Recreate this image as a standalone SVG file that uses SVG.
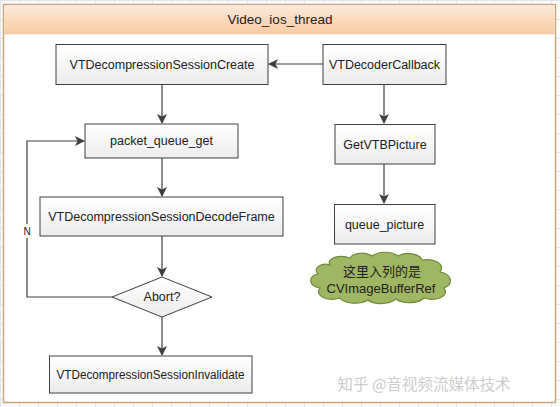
<svg xmlns="http://www.w3.org/2000/svg" width="560" height="407" viewBox="0 0 560 407">
<defs>
<pattern id="grid" width="19" height="19" patternUnits="userSpaceOnUse">
<path d="M0 0.5H19M0.5 0V19" fill="none" stroke="#e4e4e4" stroke-width="1"/>
</pattern>
<linearGradient id="hdr" x1="0" y1="0" x2="0" y2="1">
<stop offset="0" stop-color="#fce9d8"/>
<stop offset="1" stop-color="#f6cba5"/>
</linearGradient>
<linearGradient id="box" x1="0" y1="0" x2="0" y2="1">
<stop offset="0" stop-color="#ffffff"/>
<stop offset="1" stop-color="#ececec"/>
</linearGradient>
<marker id="arr" markerWidth="10" markerHeight="10" refX="9" refY="5" orient="auto" markerUnits="userSpaceOnUse">
<path d="M0 0L10 5L0 10L2.5 5Z" fill="#404040"/>
</marker>
</defs>
<style>
.n{fill:url(#box);stroke:#404040;stroke-width:1}
.t{font-family:"Liberation Sans",Arial,sans-serif;font-size:12.5px;fill:#222;text-anchor:middle;dominant-baseline:central}
.c{fill:none;stroke:#404040;stroke-width:1.2}
</style>
<rect width="560" height="407" fill="#fbfbfb"/>
<rect width="560" height="407" fill="url(#grid)"/>
<g id="container">
<rect x="3.5" y="4.5" width="552" height="398" fill="#ffffff" stroke="#c9a77c" stroke-width="1.5"/>
<rect x="4.3" y="5.3" width="550.4" height="29" fill="url(#hdr)"/>
<text class="t" x="280" y="19.5" style="font-size:13.5px">Video_ios_thread</text>
</g>
<g id="connectors">
<path class="c" d="M162 84V123" marker-end="url(#arr)"/>
<path class="c" d="M323 64H269" marker-end="url(#arr)"/>
<path class="c" d="M384 84V123" marker-end="url(#arr)"/>
<path class="c" d="M384 164V203" marker-end="url(#arr)"/>
<path class="c" d="M162 158V196" marker-end="url(#arr)"/>
<path class="c" d="M162 236V276" marker-end="url(#arr)"/>
<path class="c" d="M162 317V355" marker-end="url(#arr)"/>
<path class="c" d="M112 297H27V141H84" marker-end="url(#arr)"/>
<rect x="21" y="224" width="12" height="14" fill="#ffffff"/>
<text class="t" x="27" y="231" style="font-size:10px">N</text>
</g>
<g id="create"><rect class="n" x="56" y="44.5" width="212" height="40"/><text class="t" x="162" y="64.5">VTDecompressionSessionCreate</text></g>
<g id="callback"><rect class="n" x="323" y="44.5" width="123" height="40"/><text class="t" x="384.5" y="64.5">VTDecoderCallback</text></g>
<g id="packet_queue_get"><rect class="n" x="85" y="124" width="153" height="34"/><text class="t" x="161.5" y="141">packet_queue_get</text></g>
<g id="getvtb"><rect class="n" x="335" y="124.5" width="100" height="39.5"/><text class="t" x="385" y="144.5">GetVTBPicture</text></g>
<g id="decode"><rect class="n" x="40" y="197" width="243" height="39"/><text class="t" x="161.5" y="216.5">VTDecompressionSessionDecodeFrame</text></g>
<g id="queue_picture"><rect class="n" x="334.5" y="204.5" width="100.5" height="39.5"/><text class="t" x="384.5" y="224.5">queue_picture</text></g>
<g id="abort"><path class="n" d="M162 277L212 297L162 317L112 297Z"/><text class="t" x="162" y="297">Abort?</text></g>
<g id="cloud">
<path d="M330 265C326 258 340 254 350 258C354 252 366 252 372 256C378 251 392 251 398 256C406 251 420 254 422 260C434 258 446 264 440 272C452 274 454 284 444 288C450 296 436 302 424 298C418 304 402 304 396 299C388 305 374 305 368 300C360 305 344 304 340 298C328 302 314 296 320 288C308 286 308 276 318 274C312 268 322 262 330 265Z" fill="#9fb662" stroke="#6e8a3c" stroke-width="1.2"/>
<text class="t" x="382" y="270" style="font-family:'Noto Sans CJK SC','Liberation Sans',sans-serif;font-size:13px">这里入列的是</text>
<text class="t" x="381" y="288" style="font-size:13px">CVImageBufferRef</text>
</g>
<g id="invalidate"><rect class="n" x="49.5" y="356" width="202.5" height="37"/><text class="t" x="150.5" y="374.5" textLength="188" lengthAdjust="spacingAndGlyphs">VTDecompressionSessionInvalidate</text></g>
<text x="424" y="383" style="font-family:'Noto Sans CJK SC',sans-serif;font-size:15.5px;fill:#cdcdcd;text-anchor:middle;dominant-baseline:central">知乎 @音视频流媒体技术</text>
</svg>
